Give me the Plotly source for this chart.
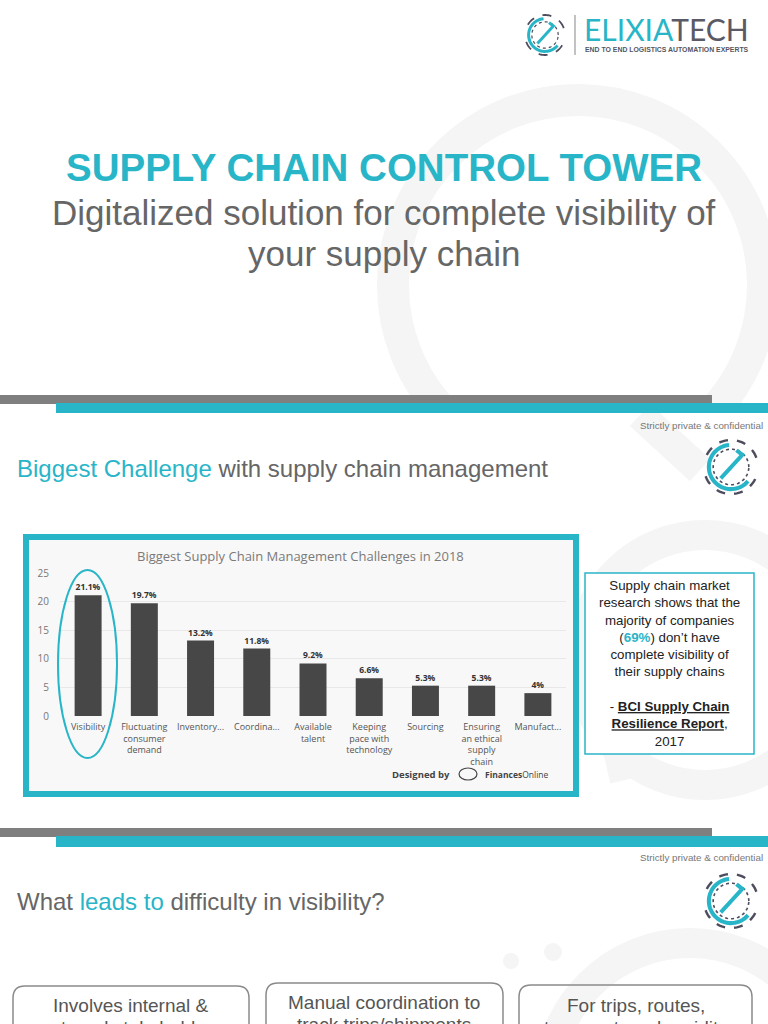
import numpy as np
import plotly.graph_objects as go

# ---------------- data ----------------
categories = ["Visibility", "Fluctuating consumer demand", "Inventory...", "Coordina...",
              "Available talent", "Keeping pace with technology", "Sourcing",
              "Ensuring an ethical supply chain", "Manufact..."]
tick_labels = ["Visibility", "Fluctuating<br>consumer<br>demand", "Inventory...", "Coordina...",
               "Available<br>talent", "Keeping<br>pace with<br>technology", "Sourcing",
               "Ensuring<br>an ethical<br>supply<br>chain", "Manufact..."]
values = [21.1, 19.7, 13.2, 11.8, 9.2, 6.6, 5.3, 5.3, 4]
value_labels = ["21.1%", "19.7%", "13.2%", "11.8%", "9.2%", "6.6%", "5.3%", "5.3%", "4%"]
y_ticks = [0, 5, 10, 15, 20, 25]

TEAL = "#29b5c8"
GREY_TXT = "#666666"
NARROW = "Liberation Sans Narrow, Arial Narrow, Liberation Sans, Arial"
ARIAL = "Liberation Sans, Arial"
CHART_FONT = "Open Sans, Lato, sans-serif"

W, H = 768, 1024


def X(x):
    return x / W


def Y(y):
    return 1 - y / H


shapes = []
annotations = []


def rect(x0, y0, x1, y1, fill=None, line_color=None, line_width=0, layer="below"):
    shapes.append(dict(type="rect", xref="paper", yref="paper",
                       x0=X(x0), x1=X(x1), y0=Y(y1), y1=Y(y0),
                       fillcolor=fill if fill else "rgba(0,0,0,0)",
                       line=dict(color=line_color if line_color else "rgba(0,0,0,0)", width=line_width),
                       layer=layer))


def circle(cx, cy, rx, ry=None, color="#000", width=1, dash="solid", fill=None, layer="below"):
    ry = rx if ry is None else ry
    shapes.append(dict(type="circle", xref="paper", yref="paper",
                       x0=X(cx - rx), x1=X(cx + rx), y0=Y(cy + ry), y1=Y(cy - ry),
                       fillcolor=fill if fill else "rgba(0,0,0,0)",
                       line=dict(color=color, width=width, dash=dash), layer=layer))


def polyline(pts, color, width, layer="below", dash="solid"):
    d = "M " + " L ".join(f"{X(px):.5f},{Y(py):.5f}" for px, py in pts)
    shapes.append(dict(type="path", xref="paper", yref="paper", path=d,
                       line=dict(color=color, width=width, dash=dash), layer=layer))


def arc_pts(cx, cy, r, a0, a1, n=40):
    a = np.radians(np.linspace(a0, a1, n))
    return [(cx + r * np.cos(t), cy - r * np.sin(t)) for t in a]


def text(x, y, s, size, color, family=ARIAL, xanchor="center", yanchor="middle", align="center"):
    annotations.append(dict(xref="paper", yref="paper", x=X(x), y=Y(y), text=s, showarrow=False,
                            xanchor=xanchor, yanchor=yanchor, align=align,
                            font=dict(size=size, color=color, family=family)))


def icon(cx, cy, r):
    polyline(arc_pts(cx, cy, r, 20, 160), "#4d4d5f", max(1.5, r * 0.09), dash="dash")
    polyline(arc_pts(cx, cy, r, 200, 340), "#4d4d5f", max(1.5, r * 0.09), dash="dash")
    polyline(arc_pts(cx, cy, r * 0.66, 0, 360, 60), "#4d4d5f", max(1, r * 0.06), dash="dot")
    polyline(arc_pts(cx, cy, r * 0.82, 95, 320), TEAL, max(2.5, r * 0.15))
    polyline([(cx - r * 0.38, cy + r * 0.42), (cx + r * 0.42, cy - r * 0.45),
              (cx + r * 0.2, cy - r * 0.62)], TEAL, max(2.5, r * 0.15))


# ---------------- faint background watermarks ----------------
WM = "#f5f5f5"
circle(578, 285, 185, color=WM, width=32)
rect(0, 413, 768, 1024, fill="white")
polyline([(640, 415), (700, 470)], WM, 30)
circle(705, 660, 125, color=WM, width=30)
polyline([(585, 610), (625, 780)], WM, 30)
rect(0, 846, 768, 1024, fill="white")
circle(690, 1085, 142, color=WM, width=30)
circle(553, 952, 9, color=WM, fill=WM, width=0)
circle(511, 961, 8, color=WM, fill=WM, width=0)

# ---------------- slide strips ----------------
rect(0, 395, 712, 404, fill="#7f7f7f")
rect(56, 403, 768, 413, fill=TEAL)
rect(0, 828, 712, 837, fill="#7f7f7f")
rect(56, 836, 768, 847, fill=TEAL)

# ---------------- top logo ----------------
icon(545, 35, 20)
polyline([(575, 15), (575, 55)], "#9a9a9a", 1.2)
text(582, 29, f"<span style='color:{TEAL}'>ELIXIA</span><span style='color:#5a5a66'>TECH</span>",
     30, TEAL, family="Lato, Open Sans, sans-serif", xanchor="left")
text(583, 49.5, "<b>END TO END LOGISTICS AUTOMATION EXPERTS</b>", 6.9, "#555560",
     family=NARROW, xanchor="left")

# ---------------- slide 1 titles ----------------
text(384, 167, "<b>SUPPLY CHAIN CONTROL TOWER</b>", 38.5, TEAL)
text(384, 212, "Digitalized solution for complete visibility of", 35, GREY_TXT)
text(384, 253, "your supply chain", 35, GREY_TXT)

# ---------------- slide 2 ----------------
text(765, 425, "Strictly private & confidential", 9.8, "#777777", family=NARROW, xanchor="right")
text(15, 468.5, f"<span style='color:{TEAL}'>Biggest Challenge</span> with supply chain management",
     24, GREY_TXT, xanchor="left")
icon(731, 467, 27)

# chart frame
rect(26, 537, 576, 794, fill="#f8f8f8", line_color=TEAL, line_width=6)
text(300, 556, "Biggest Supply Chain Management Challenges in 2018", 13, "#7a7a7a", family=CHART_FONT)

# highlight ellipse around first bar
circle(87.5, 664, 29.5, 94, color=TEAL, width=2, layer="above")

# designed by
text(452, 774, "<b>Designed by</b>", 9.5, "#444444", family=CHART_FONT, xanchor="right")
circle(468, 774, 9, 6, color="#444444", width=1.2, layer="above")
text(483, 774, "<b>Finances</b>Online", 8.5, "#444444", family=CHART_FONT, xanchor="left")

# quote box
rect(585, 573, 754, 754, fill="white", line_color=TEAL, line_width=1.5)
quote = ("Supply chain market<br>research shows that the<br>majority of companies<br>"
         f"(<span style='color:{TEAL}'><b>69%</b></span>) don’t have<br>complete visibility of<br>"
         "their supply chains<br><br>- <b><u>BCI Supply Chain</u></b><br>"
         "<b><u>Resilience Report</u></b>,<br>2017")
text(669, 576, quote, 13.3, "#222222", yanchor="top")

# ---------------- slide 3 ----------------
text(765, 857, "Strictly private & confidential", 9.8, "#777777", family=NARROW, xanchor="right")
text(15, 901.5, f"What <span style='color:{TEAL}'>leads to</span> difficulty in visibility?",
     24, GREY_TXT, xanchor="left")
icon(731, 901, 27)


def top_rounded(x0, y0, x1, yb, r=12):
    d = (f"M {X(x0):.5f},{Y(yb):.5f} L {X(x0):.5f},{Y(y0 + r):.5f} "
         f"Q {X(x0):.5f},{Y(y0):.5f} {X(x0 + r):.5f},{Y(y0):.5f} "
         f"L {X(x1 - r):.5f},{Y(y0):.5f} Q {X(x1):.5f},{Y(y0):.5f} {X(x1):.5f},{Y(y0 + r):.5f} "
         f"L {X(x1):.5f},{Y(yb):.5f}")
    shapes.append(dict(type="path", xref="paper", yref="paper", path=d,
                       line=dict(color="#8a8a8a", width=1.5), layer="below"))


top_rounded(13, 986, 249, 1040)
top_rounded(266, 983, 503, 1040)
top_rounded(519, 985, 752, 1040)
box_lines = [(131, 1005.5, "Involves internal &"), (131, 1027, "external stakeholders"),
             (384, 1002.5, "Manual coordination to"), (384, 1024, "track trips/shipments"),
             (636, 1005.5, "For trips, routes,"), (636, 1027, "temperature, humidity")]
for bx, by, bt in box_lines:
    text(bx, by, bt, 19, "#555555", family=NARROW)

# ---------------- bar chart ----------------
fig = go.Figure()
fig.add_trace(go.Bar(
    x=categories, y=values, text=value_labels, textposition="outside",
    texttemplate="<b>%{text}</b>",
    textfont=dict(size=8.5, color="#333333", family=CHART_FONT),
    marker=dict(color="#474747", line=dict(width=0)),
    cliponaxis=False, hoverinfo="skip",
))

fig.update_layout(
    template="none",
    width=W, height=H, margin=dict(l=0, r=0, t=0, b=0, pad=0, autoexpand=False), autosize=False,
    paper_bgcolor="white", plot_bgcolor="rgba(0,0,0,0)",
    showlegend=False, bargap=0.52,
    xaxis=dict(domain=[X(60), X(566)], tickvals=categories, ticktext=tick_labels,
               tickfont=dict(size=9, color="#555555", family=CHART_FONT),
               ticks="", ticklabelstandoff=4, tickangle=0, automargin=False,
               showgrid=False, zeroline=False, showline=False, fixedrange=True),
    yaxis=dict(domain=[Y(716), Y(573)], range=[0, 25], tickvals=y_ticks, automargin=False,
               showgrid=True, gridcolor="#e8e8e8", gridwidth=1, zeroline=False, showline=False,
               ticks="", tickfont=dict(size=10, color="#777777", family=CHART_FONT),
               ticklabelstandoff=10, fixedrange=True),
    shapes=shapes, annotations=annotations,
)

post = ("var s=document.documentElement.style;s.margin='0px';s.padding='0px';s.overflow='hidden';"
        "var b=document.body.style;b.margin='0px';b.padding='0px';b.overflow='hidden';")
fig.write_html("out.html", config={"displayModeBar": False, "responsive": False},
               post_script=post)
